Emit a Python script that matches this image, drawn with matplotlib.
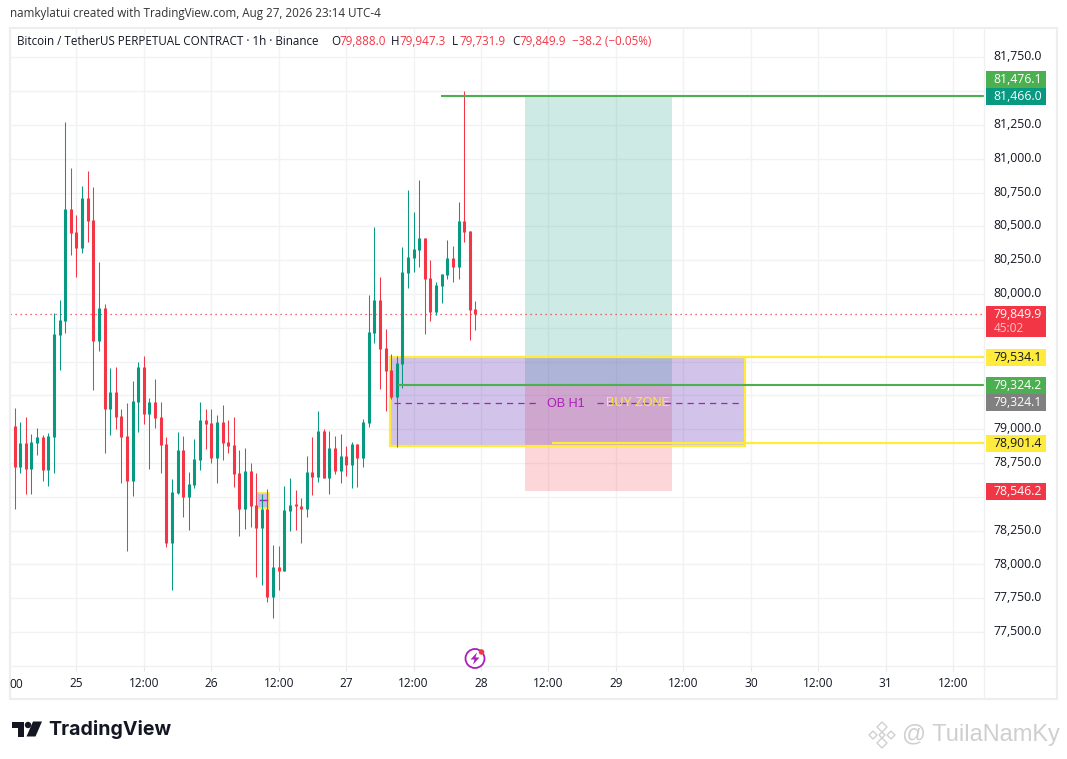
import matplotlib
matplotlib.use("Agg")
import matplotlib.pyplot as plt
import matplotlib.patches as patches
from matplotlib.transforms import ScaledTranslation
import numpy as np

# hourly candles, first one is Aug 24 13:00 (hour -11 from Aug 25 00:00)
FIRST_HOUR = -11
opens = [79023, 78720, 78897, 78705, 78897, 78942, 78698, 78942, 79697, 79800, 80629, 80459,
         80340, 80710, 80548, 79652, 79896, 79149, 79275, 79097, 78949, 78616, 79201, 79460,
         79112, 79201, 79090, 78890, 78157, 78527, 78846, 78498, 78587, 78772, 79068, 79045,
         78786, 79053, 78905, 78883, 78675, 78409, 78690, 78439, 78268, 78409, 77758, 77980,
         77950, 78394, 78439, 78431, 78409, 78683, 78646, 78986, 78638, 78860, 78690, 78801,
         78735, 78890, 78786, 79045, 79711, 79956, 79600, 79438, 79238, 79482, 80155, 80266,
         80326, 80414, 80118, 79867, 80059, 80141, 80266, 80200, 80540, 80466, 79888.0]
highs = [79156, 79053, 79090, 78964, 79008, 78957, 78971, 79859, 79956, 81273, 80932, 80585,
         80799, 80910, 80792, 80237, 79926, 79452, 79460, 79149, 79193, 79356, 79497, 79541,
         79230, 79371, 79201, 78942, 78631, 78979, 78949, 78683, 78927, 79201, 79149, 79149,
         79105, 79179, 79068, 79090, 78846, 78860, 78749, 78675, 78520, 78557, 78143, 78135,
         78579, 78638, 78550, 78490, 78801, 78942, 79134, 79001, 78986, 78949, 78964, 78875,
         78905, 78890, 79075, 79993, 80496, 80126, 79741, 79556, 79541, 80348, 80770, 80607,
         80844, 80414, 80252, 80089, 80148, 80400, 80355, 80681, 81500, 80466, 79947.3]
lows = [78409, 78675, 78520, 78520, 78809, 78616, 78579, 78675, 79438, 79711, 80289, 80126,
        80303, 80385, 79290, 79578, 78823, 78957, 79001, 78601, 78098, 78505, 78979, 79038,
        78705, 79008, 78675, 78128, 77810, 78520, 78350, 78254, 78564, 78698, 78853, 78749,
        78601, 78772, 78823, 78572, 78209, 78261, 78276, 77906, 77847, 77721, 77602, 77810,
        77950, 78246, 78254, 78157, 78350, 78513, 78609, 78638, 78520, 78668, 78601, 78653,
        78564, 78572, 78720, 79016, 79637, 79297, 79134, 79223, 78868, 79304, 80044, 80163,
        80200, 79704, 79800, 79845, 79933, 80111, 80089, 80111, 80385, 79660, 79731.9]
closes = [78720, 78897, 78705, 78905, 78942, 78698, 78949, 79704, 79808, 80629, 80451, 80340,
          80710, 80540, 79652, 79896, 79149, 79275, 79090, 78942, 78616, 79208, 79460, 79112,
          79201, 79082, 78883, 78157, 78535, 78846, 78498, 78594, 78779, 79068, 79038, 78786,
          79053, 78897, 78875, 78668, 78409, 78690, 78431, 78268, 78409, 77758, 77980, 77950,
          78402, 78439, 78431, 78409, 78683, 78646, 78986, 78638, 78860, 78690, 78801, 78735,
          78890, 78786, 79053, 79719, 79956, 79593, 79430, 79238, 79489, 80163, 80274, 80333,
          80414, 80111, 79867, 80067, 80148, 80266, 80200, 80540, 80459, 79882, 79849.9]

price_ticks = [77500 + 250 * i for i in range(18)]
hidden_price_labels = [78500, 79250, 79500, 79750, 81500]  # covered by tags on the scale
time_hours = [12 * i for i in range(14)]
time_labels = ["25", "12:00", "26", "12:00", "27", "12:00", "28", "12:00",
               "29", "12:00", "30", "12:00", "31", "12:00"]

TP_PRICE = 81466.0
ENTRY_PRICE = 79324.1
SL_PRICE = 78546.2
ZONE_TOP = 79534.1
ZONE_LOW = 78901.4
ZONE_BOTTOM = 78876
ZONE_MID = 79197

UP = "#089981"
DOWN = "#F23645"
YELLOW = "#FFEB3B"
GREEN = "#4CAF50"
PURPLE = "#AB1FB8"
GRID = "#F1F2F4"
TEXT = "#131722"
FONT = "Open Sans"

W, H = 1067, 759
plt.rcParams["font.family"] = [FONT, "DejaVu Sans"]
fig = plt.figure(figsize=(W / 100, H / 100), dpi=100, facecolor="white")

# ---------------------------------------------------------------------------
# Price pane
# ---------------------------------------------------------------------------
ax = fig.add_axes([10 / W, (H - 666) / H, 974 / W, 638 / H])
ax.set_xlim(-11.815, 161.49)
ax.set_ylim(77249, 81967)
ax.set_xticks(time_hours)
ax.set_xticklabels(time_labels)
ax.set_yticks(price_ticks)
ax.set_yticklabels(["" if p in hidden_price_labels else f"{p:,.1f}" for p in price_ticks])
ax.yaxis.tick_right()
ax.tick_params(axis="x", length=3.6, width=0.8, color="#E6E7EA", pad=4, labelsize=8.6, labelcolor=TEXT)
ax.tick_params(axis="y", length=0, pad=6.6, labelsize=8.8, labelcolor=TEXT)
# the scale labels sit a bit above their grid lines
nudge = ScaledTranslation(0, 1.4 / 72, fig.dpi_scale_trans)
for lab in ax.get_yticklabels():
    lab.set_transform(lab.get_transform() + nudge)
ax.grid(True, color=GRID, lw=1.0)
ax.set_axisbelow(True)
for s in ax.spines.values():
    s.set_visible(False)

# position tool and buy zone sit under the candles
ax.add_patch(patches.Rectangle((79.8, ENTRY_PRICE), 26.2, TP_PRICE - ENTRY_PRICE,
                               fc=UP, alpha=0.2, lw=0, zorder=1))
ax.add_patch(patches.Rectangle((79.8, SL_PRICE), 26.2, ENTRY_PRICE - SL_PRICE,
                               fc=DOWN, alpha=0.2, lw=0, zorder=1))
ax.add_patch(patches.Rectangle((55.8, ZONE_BOTTOM), 63.2, ZONE_TOP - ZONE_BOTTOM,
                               fc="#673AB7", alpha=0.3, lw=0, zorder=1.5))
ax.add_patch(patches.Rectangle((55.8, ZONE_BOTTOM), 63.2, ZONE_TOP - ZONE_BOTTOM,
                               fc="none", ec=YELLOW, lw=1.6, zorder=2))
ax.add_patch(patches.Rectangle((32.1, 78420), 2.1, 110, fc="#C9BCE6", ec=YELLOW, lw=1.2, zorder=2))
ax.plot([32.6, 33.9], [78475, 78475], color=PURPLE, lw=1, zorder=2.1)

# candles
hours = FIRST_HOUR + np.arange(len(opens))
o, h, l, c = map(np.array, (opens, highs, lows, closes))
colors = np.where(c >= o, UP, DOWN)
wicks = ax.vlines(hours, l, h, colors=colors, lw=0.75, zorder=3, capstyle="butt")
wicks.set_snap(True)
tops = np.maximum(o, c)
bots = np.minimum(o, c)
bodies = ax.vlines(hours, bots, np.maximum(tops, bots + 14), colors=colors, lw=2.2, zorder=3.1, capstyle="butt")
bodies.set_snap(True)

# last price line
ax.axhline(closes[-1], color=DOWN, lw=0.9, ls=(0, (1, 3)), zorder=2.5)

# rays running into the price scale
ax.plot([64.9, 161.49], [TP_PRICE, TP_PRICE], color=GREEN, lw=1.5, zorder=4, solid_capstyle="butt")
ax.plot([57.2, 161.49], [79324.2, 79324.2], color=GREEN, lw=1.5, zorder=4, solid_capstyle="butt")
ax.plot([100.6, 161.49], [ZONE_TOP, ZONE_TOP], color=YELLOW, lw=1.6, zorder=4, solid_capstyle="butt")
ax.plot([84.6, 161.49], [ZONE_LOW, ZONE_LOW], color=YELLOW, lw=1.6, zorder=4, solid_capstyle="butt")

# dashed midline with a gap for the OB H1 label
ax.plot([56.5, 82.1], [ZONE_MID, ZONE_MID], color=PURPLE, lw=0.9, ls=(0, (5, 4)), zorder=4, snap=True)
ax.plot([92.6, 118.5], [ZONE_MID, ZONE_MID], color=PURPLE, lw=0.9, ls=(0, (5, 4)), zorder=4, snap=True)
ax.text(87.0, 79190, "OB H1", color=PURPLE, fontsize=9, ha="center", va="center",
        family="Liberation Sans", zorder=5)
ax.text(99.9, 79197, "BUY ZONE", color=YELLOW, fontsize=9, ha="center", va="center",
        family="Liberation Sans", zorder=5)

# ---------------------------------------------------------------------------
# Chrome in pixel coordinates
# ---------------------------------------------------------------------------
px = fig.add_axes([0, 0, 1, 1], facecolor="none")
px.set_xlim(0, W)
px.set_ylim(H, 0)
px.axis("off")

px.add_patch(patches.Rectangle((9.5, 28), 1047.5, 671, fc="none", ec="#EDEEF0", lw=1.6))
px.plot([10, 1057], [666, 666], color="#EFF0F2", lw=1)
px.plot([984, 984], [28, 699], color="#EFF0F2", lw=1)
tick_y = 684
px.text(16, tick_y, "00", color=TEXT, fontsize=8.6, ha="center", va="center")

px.text(10, 14, "namkylatui created with TradingView.com, Aug 27, 2026 23:14 UTC-4",
        color="#333333", fontsize=8.35, ha="left", va="center")
px.text(17, 41.5, "Bitcoin / TetherUS PERPETUAL CONTRACT · 1h · Binance",
        color=TEXT, fontsize=8.35, ha="left", va="center")
legend_parts = [(331, "O", TEXT), (339, "79,888.0", DOWN), (391, "H", TEXT), (399, "79,947.3", DOWN),
                (452, "L", TEXT), (459, "79,731.9", DOWN), (512, "C", TEXT), (519, "79,849.9", DOWN),
                (572, "−38.2 (−0.05%)", DOWN)]
for x, s, col in legend_parts:
    px.text(x, 41.5, s, color=col, fontsize=8.35, ha="left", va="center")

# price scale tags: label, centre y in px, fill, text colour
tags = [("81,476.1", 79, GREEN, "white"), ("81,466.0", 96, UP, "white"),
        ("79,534.1", 357, YELLOW, TEXT), ("79,324.2", 385, GREEN, "white"),
        ("79,324.1", 402, "#808080", "white"), ("78,901.4", 443, YELLOW, TEXT),
        ("78,546.2", 491, DOWN, "white")]
for s, yc, fc, tc in tags:
    px.add_patch(patches.Rectangle((986, yc - 8.5), 60, 17, fc=fc, lw=0, zorder=6))
    px.text(1017.5, yc + 0.5, s, color=tc, fontsize=8.8, ha="center", va="center", zorder=7)
px.add_patch(patches.Rectangle((986, 306), 60, 31, fc=DOWN, lw=0, zorder=6))
px.text(1017.5, 314, "79,849.9", color="white", fontsize=8.8, ha="center", va="center", zorder=7)
px.text(994, 328, "45:02", color="#FBC4C9", fontsize=8.6, ha="left", va="center", zorder=7)

# lightning badge
px.add_patch(patches.Ellipse((475, 658.5), 19, 19, fc="white", ec=PURPLE, lw=1.3, zorder=6))
px.add_patch(patches.Polygon([(477, 652.5), (470.5, 659.5), (474.5, 659.5), (473, 664.5),
                              (479.5, 657.5), (475.5, 657.5)], fc=PURPLE, lw=0, zorder=7))
px.add_patch(patches.Ellipse((481.5, 652), 5.5, 5.5, fc=DOWN, lw=0, zorder=8))

# TradingView logo
logo = "#131722"
px.add_patch(patches.Polygon([(12, 721.5), (24, 721.5), (24, 736.5), (17.5, 736.5), (17.5, 728), (12, 728)],
                             fc=logo, lw=0))
px.add_patch(patches.Ellipse((28, 725), 6.4, 6.4, fc=logo, lw=0))
px.add_patch(patches.Polygon([(33, 721.5), (42, 721.5), (35.5, 736.5), (26.5, 736.5)], fc=logo, lw=0))
px.text(48, 729.5, "TradingView", color=logo, fontsize=14.1, fontweight="bold",
        family="Inter", ha="left", va="center")

# watermark
wm = "#CFCFCF"
for cx, cy, r in [(882, 727, 5), (882, 743, 5), (873, 735, 4), (891, 735, 4), (882, 735, 3)]:
    px.add_patch(patches.Polygon([(cx - r, cy), (cx, cy - r), (cx + r, cy), (cx, cy + r)],
                                 fc="none", ec=wm, lw=1))
px.text(902, 735, "@ TuilaNamKy", color=wm, fontsize=17, ha="left", va="center",
        family="Liberation Sans")

fig.savefig("out.png", dpi=100, facecolor="white")
